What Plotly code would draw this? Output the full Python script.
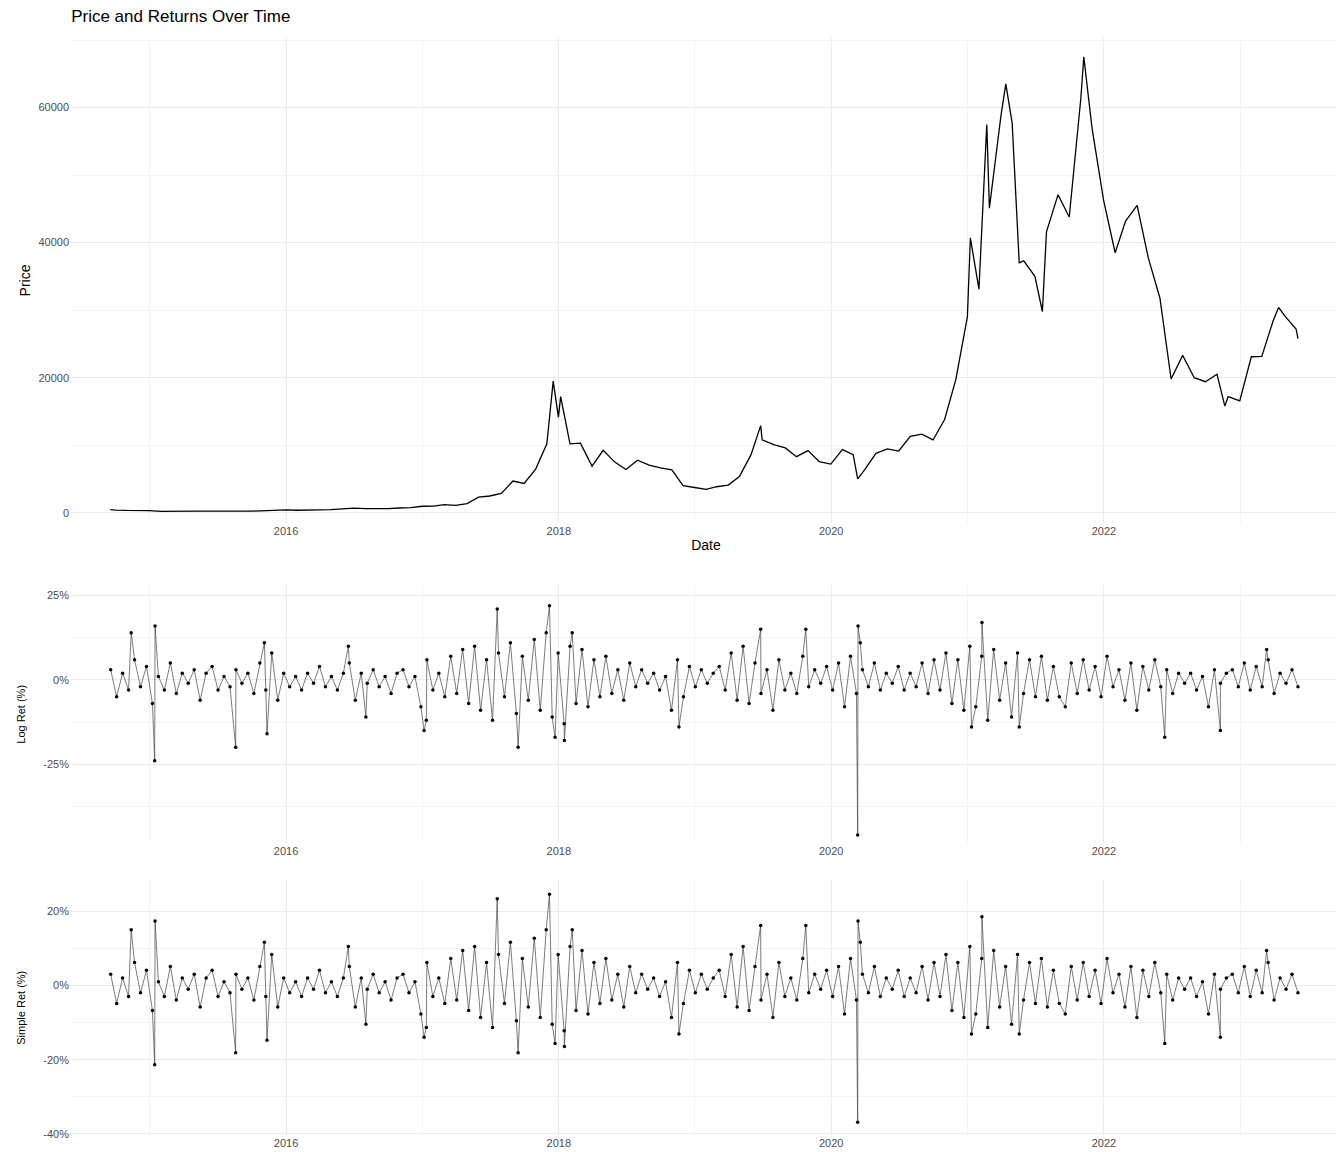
import pandas as pd
import numpy as np
import plotly.graph_objects as go
from plotly.subplots import make_subplots

price_dates = pd.date_range("2014-09-30", "2023-05-31", freq="ME").strftime("%Y-%m-%d").tolist()
price_vals = [390,340,375,320,
 217,254,244,236,230,263,284,230,236,314,377,430,
 368,437,416,448,531,673,624,575,609,700,745,963,
 970,1190,1080,1350,2300,2480,2875,4700,4340,6470,10200,14150,
 10200,10300,6900,9240,7500,6400,7780,7040,6630,6340,4020,3740,
 3450,3850,4100,5350,8570,10800,10100,9600,8300,9200,7570,7200,
 9350,8600,6400,8800,9450,9140,11300,11650,10780,13800,19700,29000,
 33100,45100,58800,57700,37300,35000,41600,47100,43800,61300,57000,46300,
 38500,43200,45500,37700,31800,19800,23300,20000,19400,20500,17200,16550,
 23100,23150,28500,29200,27200]
extra_price_dates = ["2014-09-17","2017-12-17","2018-01-06","2019-06-26","2020-03-12","2021-01-08","2021-02-21",
                     "2021-04-13","2021-05-19","2021-07-20","2021-11-08","2022-11-21","2023-04-14","2023-06-05"]
extra_price_vals = [460,19500,17200,12900,5000,40700,57500,63500,37000,29800,67500,15800,30400,25800]

ret_base = [3,-5,2,-3,6,-2,4,-7,1,-3,5,-4,2,-1,3,-6,2,4,-3,1,
 -2,3,-1,2,-4,5,-3,8,-6,2,-2,1,-3,2,-1,4,-2,1,-3,2,
 5,-6,2,-1,3,-2,1,-4,2,3,-2,1,-8,6,-3,2,-5,7,-4,9,
 -7,10,-9,6,-12,8,-5,11,-10,7,-6,12,-9,14,-11,8,-13,10,-7,9,
 -8,6,-5,7,-4,3,-6,5,-2,3,-1,2,-3,1,-9,6,-5,4,-2,3,
 -1,2,4,-3,8,-6,10,-7,5,-4,3,-9,6,-3,2,-4,7,-2,3,-1,
 4,-3,5,-8,7,-4,3,-2,5,-3,2,-1,4,-3,2,-2,5,-4,6,-3,
 8,-7,6,-9,10,-8,7,-12,9,-6,5,-11,8,-4,6,-5,7,-6,4,-5,
 -8,5,-4,6,-3,4,-5,7,-2,3,-6,5,-9,4,-3,6,-2,3,-4,2,
 -1,2,-3,1,-8,3,-1,2,3,-2,5,-3,4,-2,6,-4,2,-1,3,-2]
spike_dates = ["2014-11-12","2015-01-14","2015-01-15","2015-08-19","2015-11-04","2015-11-11","2016-06-16",
 "2016-08-02","2017-01-05","2017-01-11","2017-07-20","2017-09-14","2017-12-07","2017-12-22","2018-01-16",
 "2018-02-06","2018-11-19","2019-06-26","2019-10-25","2020-03-12","2020-03-13","2020-03-19","2021-01-11",
 "2021-02-08","2021-05-19","2022-06-13","2022-11-09","2023-03-13"]
spike_vals = [14,-24,16,-20,11,-16,10,-11,-15,-12,21,-20,22,-17,-18,14,-14,15,15,-46,16,11,-14,17,-14,-17,-15,9]

p = pd.Series(price_vals + extra_price_vals,
              index=pd.to_datetime(price_dates + extra_price_dates)).sort_index()
base_idx = pd.date_range("2014-09-18", "2023-06-05", periods=len(ret_base))
r = pd.concat([pd.Series(ret_base, index=base_idx),
               pd.Series(spike_vals, index=pd.to_datetime(spike_dates))]).sort_index()
simple = (np.exp(r / 100) - 1) * 100

fig = make_subplots(rows=3, cols=1)
fig.add_trace(go.Scatter(x=p.index, y=p.values, mode="lines", line=dict(color="black", width=1.3)), 1, 1)
for i, s in [(2, r), (3, simple)]:
    fig.add_trace(go.Scatter(x=s.index, y=s.values, mode="lines+markers",
                             line=dict(color="#444", width=0.7),
                             marker=dict(color="black", size=3.5)), i, 1)

grid = "#ebebeb"
fig.update_xaxes(showgrid=True, gridcolor=grid, zeroline=False, showline=False,
                 tickvals=["2016-01-01","2018-01-01","2020-01-01","2022-01-01"],
                 ticktext=["2016","2018","2020","2022"],
                 minor=dict(tickvals=["2015-01-01","2017-01-01","2019-01-01","2021-01-01","2023-01-01"],
                            showgrid=True, gridcolor="#f3f3f3"),
                 range=["2014-06-01", "2023-10-01"], tickfont=dict(size=11, color="#4d4d4d"))
fig.update_xaxes(title_text="Date", title_font=dict(size=14), title_standoff=4, row=1, col=1)
fig.update_yaxes(showgrid=True, gridcolor=grid, zeroline=False, tickfont=dict(size=11, color="#4d4d4d"))
fig.update_yaxes(row=1, col=1, title_text="Price", title_font=dict(size=14), title_standoff=4,
                 range=[-1500, 70300], tickvals=[0,20000,40000,60000], ticktext=["0","20000","40000","60000"],
                 domain=[0.558, 1.0],
                 minor=dict(tickvals=[10000,30000,50000,70000], showgrid=True, gridcolor="#f3f3f3"))
fig.update_yaxes(row=2, col=1, title_text="Log Ret (%)", title_font=dict(size=11), range=[-48.4, 28],
                 tickvals=[-25,0,25], ticktext=["-25%","0%","25%"], domain=[0.266, 0.501],
                 minor=dict(tickvals=[-37.5,-12.5,12.5], showgrid=True, gridcolor="#f3f3f3"))
fig.update_yaxes(row=3, col=1, title_text="Simple Ret (%)", title_font=dict(size=11), range=[-40.3, 28.3],
                 tickvals=[-40,-20,0,20], ticktext=["-40%","-20%","0%","20%"], domain=[0, 0.232],
                 minor=dict(tickvals=[-30,-10,10], showgrid=True, gridcolor="#f3f3f3"))
fig.update_layout(width=1344, height=1152, showlegend=False, plot_bgcolor="white", paper_bgcolor="white",
                  font=dict(family="Liberation Sans, Arial", color="black"),
                  title=dict(text="Price and Returns Over Time", x=0.047, y=0.998, yanchor="top",
                             font=dict(size=17)),
                  margin=dict(l=62, r=10, t=30, b=25))
fig.write_html("out.html")
